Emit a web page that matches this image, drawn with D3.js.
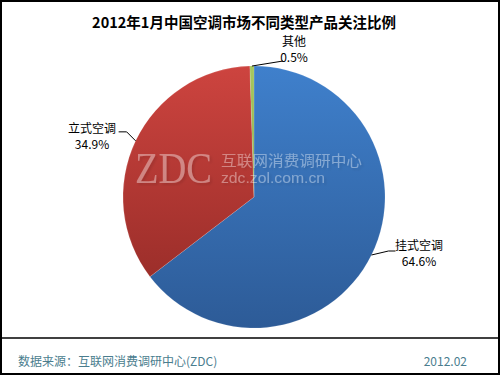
<!DOCTYPE html>
<html><head><meta charset="utf-8">
<script src="https://cdn.jsdelivr.net/npm/d3@7"></script>
<style>body{margin:0;background:#fff;}svg{display:block;}</style>
</head><body>
<script>
const categories = ["挂式空调", "立式空调", "其他"];
const values = [64.6, 34.9, 0.5];
const valueLabels = ["64.6%", "34.9%", "0.5%"];
const titleText = "2012年1月中国空调市场不同类型产品关注比例";
const sourceText = "数据来源：互联网消费调研中心(ZDC)";
const dateText = "2012.02";

const W = 500, H = 375;
const cx = 254, cy = 197, R = 131;
const font = "'Noto Sans CJK SC','Noto Sans',sans-serif";
const colors = [["#3f80cc", "#2d5b97"], ["#cd443f", "#9c2e2a"], ["#a6c85e", "#8dac4f"]];
const labelLayout = [
  {elbow: [17, -4], end: [24, -4], tx: 419, ty: 250, anchor: "middle"},
  {elbow: [-9, -9], end: [-17, -9], tx: 92, ty: 133, anchor: "middle"},
  {elbow: [31, -5], end: [31, -5], tx: 294, ty: 46, anchor: "middle"}
];

const svg = d3.select("body").append("svg").attr("width", W).attr("height", H);
const defs = svg.append("defs");
colors.forEach((c, i) => {
  const g = defs.append("linearGradient").attr("id", "g" + i)
    .attr("x1", 0).attr("y1", 0).attr("x2", 0).attr("y2", 1);
  g.append("stop").attr("offset", "0%").attr("stop-color", c[0]);
  g.append("stop").attr("offset", "100%").attr("stop-color", c[1]);
});
const f = defs.append("filter").attr("id", "sh").attr("x", "-10%").attr("y", "-30%")
  .attr("width", "130%").attr("height", "170%");
f.append("feDropShadow").attr("dx", 2).attr("dy", 2).attr("stdDeviation", 1)
  .attr("flood-color", "#000").attr("flood-opacity", 0.25);

svg.append("rect").attr("x", 1).attr("y", 1).attr("width", W - 2).attr("height", H - 2)
  .attr("fill", "#fff").attr("stroke", "#000").attr("stroke-width", 2);

svg.append("text").attr("x", 244).attr("y", 28).attr("text-anchor", "middle")
  .attr("font-family", font).attr("font-size", 14.5).attr("font-weight", "bold")
  .attr("fill", "#000").text(titleText);

const pie = d3.pie().sort(null).value(d => d)(values);
const arc = d3.arc().innerRadius(0).outerRadius(R);
const gPie = svg.append("g").attr("transform", `translate(${cx},${cy})`);
gPie.selectAll("path").data(pie).join("path")
  .attr("d", arc).attr("fill", (d, i) => `url(#g${i})`)
  .attr("stroke", "rgba(255,255,255,0.25)").attr("stroke-width", 0.5);

// watermark
const wm = svg.append("g").attr("filter", "url(#sh)");
const wmItems = [
  {t: "ZDC", x: 135, y: 183, size: 44, fam: "'Liberation Serif',serif", len: 77},
  {t: "互联网消费调研中心", x: 221, y: 166, size: 15, fam: font, len: 141},
  {t: "zdc.zol.com.cn", x: 221, y: 183, size: 14, fam: "'Liberation Sans',sans-serif", len: 104}
];
wmItems.forEach(o => {
  wm.append("text").attr("x", o.x).attr("y", o.y).attr("font-family", o.fam)
    .attr("font-size", o.size).attr("textLength", o.len).attr("lengthAdjust", "spacingAndGlyphs")
    .attr("fill", "rgba(255,255,255,0.38)").text(o.t);
});

// leaders and labels
pie.forEach((d, i) => {
  const a = (d.startAngle + d.endAngle) / 2;
  const sx = cx + R * Math.sin(a), sy = cy - R * Math.cos(a);
  const L = labelLayout[i];
  const pts = [[sx, sy], [sx + L.elbow[0], sy + L.elbow[1]], [sx + L.end[0], sy + L.end[1]]];
  svg.append("path").attr("d", d3.line()(pts)).attr("fill", "none")
    .attr("stroke", "#000").attr("stroke-width", 1);
  const t = svg.append("text").attr("text-anchor", L.anchor)
    .attr("font-family", font).attr("font-size", 12).attr("fill", "#000");
  t.append("tspan").attr("x", L.tx).attr("y", L.ty).text(categories[i]);
  t.append("tspan").attr("x", L.tx).attr("y", L.ty + 16).text(valueLabels[i]);
});

// footer
svg.append("line").attr("x1", 1).attr("x2", W - 1).attr("y1", 338).attr("y2", 338)
  .attr("stroke", "#000").attr("stroke-width", 1.5);
svg.append("text").attr("x", 18).attr("y", 366).attr("font-family", font).attr("font-size", 12)
  .attr("fill", "#4a7d8e").text(sourceText);
svg.append("text").attr("x", 467).attr("y", 366).attr("text-anchor", "end").attr("font-family", font)
  .attr("font-size", 12).attr("fill", "#4a7d8e").text(dateText);
</script>
</body></html>
